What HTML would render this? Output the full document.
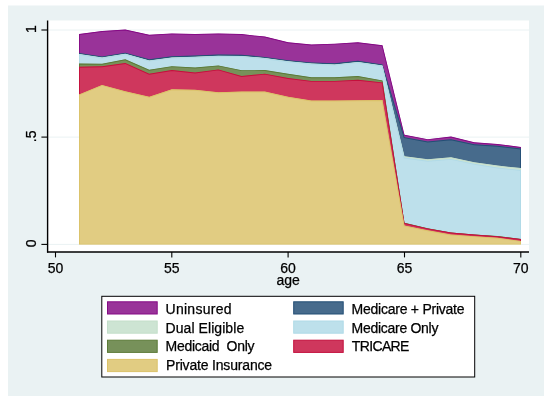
<!DOCTYPE html>
<html lang="en"><head><meta charset="utf-8"><title>Insurance coverage by age</title>
<style>
html,body{margin:0;padding:0;background:#fff;}
body{width:550px;height:404px;overflow:hidden;}
svg{display:block;}
text{font-family:"Liberation Sans",Arial,sans-serif;font-size:14px;fill:#000;stroke:#000;stroke-width:0.25px;}
</style></head><body>
<svg width="550" height="404" viewBox="0 0 550 404">
<rect x="0" y="0" width="550" height="404" fill="#ffffff"/>
<rect x="8" y="5.5" width="536" height="390.5" fill="#eaf2f3"/>
<rect x="47.5" y="20.5" width="481.5" height="231.5" fill="#ffffff"/>

<line x1="48" y1="30.0" x2="529" y2="30.0" stroke="#eaf2f3" stroke-width="1"/>
<line x1="48" y1="137.1" x2="529" y2="137.1" stroke="#eaf2f3" stroke-width="1"/>
<line x1="48" y1="244.4" x2="529" y2="244.4" stroke="#eaf2f3" stroke-width="1"/>
<clipPath id="c1"><path d="M79.00,243.9 L79.00,34.1 L102.03,31.1 L125.30,29.6 L149.26,34.8 L171.82,33.4 L195.09,34.1 L218.36,33.4 L241.62,34.1 L264.88,36.6 L288.15,42.3 L311.42,44.5 L334.68,43.7 L357.94,42.3 L382.51,45.3 L404.48,134.7 L427.74,139.2 L451.00,136.6 L474.27,142.3 L497.54,144.0 L521.00,147.0 L521.00,243.9 Z"/></clipPath><path d="M79.00,243.9 L79.00,34.1 L102.03,31.1 L125.30,29.6 L149.26,34.8 L171.82,33.4 L195.09,34.1 L218.36,33.4 L241.62,34.1 L264.88,36.6 L288.15,42.3 L311.42,44.5 L334.68,43.7 L357.94,42.3 L382.51,45.3 L404.48,134.7 L427.74,139.2 L451.00,136.6 L474.27,142.3 L497.54,144.0 L521.00,147.0 L521.00,243.9 Z" fill="#993399" stroke="#850a85" stroke-width="1.8" stroke-linejoin="miter" clip-path="url(#c1)"/>
<clipPath id="c2"><path d="M79.00,243.9 L79.00,52.9 L102.03,56.4 L125.30,52.7 L149.26,59.3 L171.82,56.3 L195.09,55.6 L218.36,54.6 L241.62,54.8 L264.88,56.9 L288.15,60.2 L311.42,62.4 L334.68,63.3 L357.94,60.8 L382.51,64.4 L404.48,137.3 L427.74,141.5 L451.00,139.3 L474.27,144.3 L497.54,145.8 L521.00,148.5 L521.00,243.9 Z"/></clipPath><path d="M79.00,243.9 L79.00,52.9 L102.03,56.4 L125.30,52.7 L149.26,59.3 L171.82,56.3 L195.09,55.6 L218.36,54.6 L241.62,54.8 L264.88,56.9 L288.15,60.2 L311.42,62.4 L334.68,63.3 L357.94,60.8 L382.51,64.4 L404.48,137.3 L427.74,141.5 L451.00,139.3 L474.27,144.3 L497.54,145.8 L521.00,148.5 L521.00,243.9 Z" fill="#476b8c" stroke="#234e75" stroke-width="1.8" stroke-linejoin="miter" clip-path="url(#c2)"/>
<clipPath id="c3"><path d="M79.00,243.9 L79.00,54.0 L102.03,57.5 L125.30,53.8 L149.26,60.4 L171.82,57.4 L195.09,56.7 L218.36,55.7 L241.62,55.9 L264.88,58.0 L288.15,61.3 L311.42,63.5 L334.68,64.4 L357.94,61.9 L382.51,65.5 L404.48,156.2 L427.74,159.3 L451.00,157.3 L474.27,162.2 L497.54,165.6 L521.00,168.1 L521.00,243.9 Z"/></clipPath><path d="M79.00,243.9 L79.00,54.0 L102.03,57.5 L125.30,53.8 L149.26,60.4 L171.82,57.4 L195.09,56.7 L218.36,55.7 L241.62,55.9 L264.88,58.0 L288.15,61.3 L311.42,63.5 L334.68,64.4 L357.94,61.9 L382.51,65.5 L404.48,156.2 L427.74,159.3 L451.00,157.3 L474.27,162.2 L497.54,165.6 L521.00,168.1 L521.00,243.9 Z" fill="#cde4d3" stroke="#c3deca" stroke-width="1.8" stroke-linejoin="miter" clip-path="url(#c3)"/>
<clipPath id="c4"><path d="M79.00,243.9 L79.00,54.3 L102.03,57.8 L125.30,54.1 L149.26,60.7 L171.82,57.7 L195.09,57.0 L218.36,56.0 L241.62,56.2 L264.88,58.3 L288.15,61.6 L311.42,63.8 L334.68,64.7 L357.94,62.2 L382.51,65.8 L404.48,157.6 L427.74,160.8 L451.00,158.9 L474.27,163.8 L497.54,167.6 L521.00,170.1 L521.00,243.9 Z"/></clipPath><path d="M79.00,243.9 L79.00,54.3 L102.03,57.8 L125.30,54.1 L149.26,60.7 L171.82,57.7 L195.09,57.0 L218.36,56.0 L241.62,56.2 L264.88,58.3 L288.15,61.6 L311.42,63.8 L334.68,64.7 L357.94,62.2 L382.51,65.8 L404.48,157.6 L427.74,160.8 L451.00,158.9 L474.27,163.8 L497.54,167.6 L521.00,170.1 L521.00,243.9 Z" fill="#bde0eb" stroke="#b0dae7" stroke-width="1.8" stroke-linejoin="miter" clip-path="url(#c4)"/>
<clipPath id="c5"><path d="M79.00,243.9 L79.00,63.5 L102.03,63.8 L125.30,59.3 L149.26,69.7 L171.82,66.2 L195.09,67.6 L218.36,65.4 L241.62,70.2 L264.88,70.1 L288.15,73.8 L311.42,77.3 L334.68,77.3 L357.94,76.0 L382.51,80.4 L404.48,222.8 L427.74,228.2 L451.00,232.4 L474.27,234.4 L497.54,236.1 L521.00,238.9 L521.00,243.9 Z"/></clipPath><path d="M79.00,243.9 L79.00,63.5 L102.03,63.8 L125.30,59.3 L149.26,69.7 L171.82,66.2 L195.09,67.6 L218.36,65.4 L241.62,70.2 L264.88,70.1 L288.15,73.8 L311.42,77.3 L334.68,77.3 L357.94,76.0 L382.51,80.4 L404.48,222.8 L427.74,228.2 L451.00,232.4 L474.27,234.4 L497.54,236.1 L521.00,238.9 L521.00,243.9 Z" fill="#77915a" stroke="#5c7b38" stroke-width="1.8" stroke-linejoin="miter" clip-path="url(#c5)"/>
<clipPath id="c6"><path d="M79.00,243.9 L79.00,66.8 L102.03,66.3 L125.30,63.0 L149.26,73.7 L171.82,70.1 L195.09,72.6 L218.36,69.4 L241.62,76.0 L264.88,73.7 L288.15,78.0 L311.42,80.9 L334.68,80.9 L357.94,79.8 L382.51,82.4 L404.48,223.0 L427.74,228.4 L451.00,232.6 L474.27,234.6 L497.54,236.3 L521.00,239.1 L521.00,243.9 Z"/></clipPath><path d="M79.00,243.9 L79.00,66.8 L102.03,66.3 L125.30,63.0 L149.26,73.7 L171.82,70.1 L195.09,72.6 L218.36,69.4 L241.62,76.0 L264.88,73.7 L288.15,78.0 L311.42,80.9 L334.68,80.9 L357.94,79.8 L382.51,82.4 L404.48,223.0 L427.74,228.4 L451.00,232.6 L474.27,234.6 L497.54,236.3 L521.00,239.1 L521.00,243.9 Z" fill="#cf375d" stroke="#c40f3c" stroke-width="1.8" stroke-linejoin="miter" clip-path="url(#c6)"/>
<clipPath id="c7"><path d="M79.00,244.6 L79.00,94.5 L102.03,84.9 L125.30,91.3 L149.26,96.8 L171.82,89.3 L195.09,89.8 L218.36,92.3 L241.62,91.6 L264.88,91.6 L288.15,96.8 L311.42,100.5 L334.68,100.5 L357.94,100.3 L382.51,100.1 L404.48,225.6 L427.74,230.3 L451.00,234.6 L474.27,236.2 L497.54,237.8 L521.00,240.9 L521.00,244.6 Z"/></clipPath><path d="M79.00,244.6 L79.00,94.5 L102.03,84.9 L125.30,91.3 L149.26,96.8 L171.82,89.3 L195.09,89.8 L218.36,92.3 L241.62,91.6 L264.88,91.6 L288.15,96.8 L311.42,100.5 L334.68,100.5 L357.94,100.3 L382.51,100.1 L404.48,225.6 L427.74,230.3 L451.00,234.6 L474.27,236.2 L497.54,237.8 L521.00,240.9 L521.00,244.6 Z" fill="#e1cc82" stroke="#dbc269" stroke-width="1.8" stroke-linejoin="miter" clip-path="url(#c7)"/>
<line x1="47.6" y1="20.5" x2="47.6" y2="252.6" stroke="#000" stroke-width="1.4"/>
<line x1="47" y1="252.0" x2="529" y2="252.0" stroke="#000" stroke-width="1.3"/>
<line x1="41.4" y1="30.0" x2="47.6" y2="30.0" stroke="#000" stroke-width="1.1"/>
<line x1="41.4" y1="137.1" x2="47.6" y2="137.1" stroke="#000" stroke-width="1.1"/>
<line x1="41.4" y1="244.4" x2="47.6" y2="244.4" stroke="#000" stroke-width="1.1"/>
<line x1="55.5" y1="252.0" x2="55.5" y2="257.4" stroke="#000" stroke-width="1.1"/>
<text x="55.5" y="273.3" text-anchor="middle">50</text>
<line x1="171.8" y1="252.0" x2="171.8" y2="257.4" stroke="#000" stroke-width="1.1"/>
<text x="171.8" y="273.3" text-anchor="middle">55</text>
<line x1="288.1" y1="252.0" x2="288.1" y2="257.4" stroke="#000" stroke-width="1.1"/>
<text x="288.1" y="273.3" text-anchor="middle">60</text>
<line x1="404.5" y1="252.0" x2="404.5" y2="257.4" stroke="#000" stroke-width="1.1"/>
<text x="404.5" y="273.3" text-anchor="middle">65</text>
<line x1="520.8" y1="252.0" x2="520.8" y2="257.4" stroke="#000" stroke-width="1.1"/>
<text x="520.8" y="273.3" text-anchor="middle">70</text>
<text x="288.1" y="285.3" text-anchor="middle">age</text>
<text transform="translate(36,29.2) rotate(-90)" text-anchor="middle">1</text>
<text transform="translate(36,136.3) rotate(-90)" text-anchor="middle">.5</text>
<text transform="translate(36,243.4) rotate(-90)" text-anchor="middle">0</text>
<rect x="101.8" y="296.3" width="372.9" height="80.7" fill="#fff" stroke="#000" stroke-width="1"/>
<rect x="107.5" y="301.8" width="49.7" height="12.2" fill="#993399" stroke="#850a85" stroke-width="1"/>
<text x="165.5" y="313.9" textLength="66.0" lengthAdjust="spacing" xml:space="preserve">Uninsured</text>
<rect x="293.7" y="301.8" width="49.5" height="12.2" fill="#476b8c" stroke="#234e75" stroke-width="1"/>
<text x="351.6" y="313.9" textLength="112.9" lengthAdjust="spacing">Medicare + Private</text>
<rect x="107.5" y="321.0" width="49.7" height="12.2" fill="#cde4d3" stroke="#c3deca" stroke-width="1"/>
<text x="165.5" y="333.1" textLength="78.7" lengthAdjust="spacing" xml:space="preserve">Dual Eligible</text>
<rect x="293.7" y="321.0" width="49.5" height="12.2" fill="#bde0eb" stroke="#b0dae7" stroke-width="1"/>
<text x="351.6" y="333.1" textLength="86.8" lengthAdjust="spacing">Medicare Only</text>
<rect x="107.5" y="340.2" width="49.7" height="12.2" fill="#77915a" stroke="#5c7b38" stroke-width="1"/>
<text x="165.5" y="351.4" textLength="89.0" lengthAdjust="spacing" xml:space="preserve">Medicaid  Only</text>
<rect x="293.7" y="340.2" width="49.5" height="12.2" fill="#cf375d" stroke="#c40f3c" stroke-width="1"/>
<text x="351.8" y="351.4" textLength="57.6" lengthAdjust="spacing">TRICARE</text>
<rect x="107.5" y="359.4" width="49.7" height="12.2" fill="#e1cc82" stroke="#dbc269" stroke-width="1"/>
<text x="166.0" y="370.1" textLength="106.1" lengthAdjust="spacing" xml:space="preserve">Private Insurance</text>
</svg>
</body></html>
